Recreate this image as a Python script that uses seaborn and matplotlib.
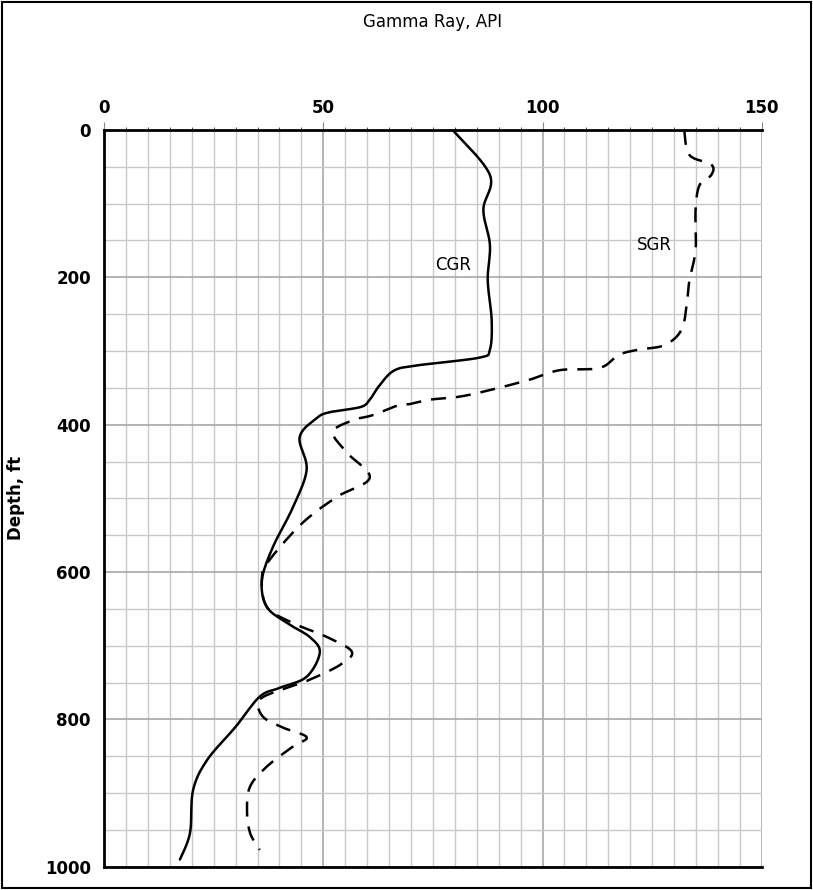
import matplotlib
matplotlib.use("Agg")
import matplotlib.pyplot as plt
import seaborn as sns
import numpy as np
import pandas as pd
from matplotlib.ticker import MultipleLocator

cgr_depth = [0, 61, 108, 156, 204, 258, 298, 309, 319, 326, 346, 366, 376, 383, 391, 417, 461, 513,
             566, 611, 647, 669, 688, 709, 742, 757, 769, 810, 855, 896, 954, 990]
cgr_api = [79.5, 88, 86.5, 88, 87.5, 88.4, 88, 85.6, 72, 66.3, 62.9, 60.6, 58.5, 51.5, 48.5, 44.6, 46.2, 43,
           38.5, 36, 37.1, 41.7, 46.9, 49.2, 46.2, 40.1, 35.5, 30.0, 23.5, 20.3, 19.6, 17.3]

sgr_depth = [0, 34, 47, 61, 75, 108, 163, 204, 231, 271, 292, 298, 305, 323, 326, 339, 353, 362, 366, 372,
             373, 387, 394, 410, 438, 472, 498, 533, 583, 607, 647, 669, 688, 708, 726, 746, 757, 773,
             796, 811, 824, 837, 864, 891, 923, 954, 977]
sgr_api = [132.3, 133.5, 138.5, 138.5, 135.8, 134.9, 134.9, 133.5, 133, 131.7, 127.8, 122, 117.5, 113, 103.9,
           97, 88, 81, 74.3, 69.7, 67.4, 61.3, 56.7, 52.2, 55.4, 60.6, 53.1, 45.3, 37.8, 36, 37.1, 43,
           50.8, 56.5, 53.8, 46.9, 41.7, 35.5, 36.2, 40.8, 46.2, 43, 37.1, 33.3, 32.6, 33.3, 35.5]

x_ticks = [0, 50, 100, 150]
y_ticks = [0, 200, 400, 600, 800, 1000]

sns.set_style("white")
plt.rcParams['font.family'] = ['DejaVu Sans']
plt.rcParams['text.color'] = 'black'
plt.rcParams['axes.labelcolor'] = 'black'
plt.rcParams['xtick.labelcolor'] = 'black'
plt.rcParams['ytick.labelcolor'] = 'black'

fig = plt.figure(figsize=(8.13, 8.90), dpi=100)
ax = fig.add_axes([0.128, 0.026, 0.809, 0.828])

def smooth(d, v):
    d = np.asarray(d, float); v = np.asarray(v, float)
    tt = np.linspace(0, len(d) - 1, len(d) * 10)
    def cr(p):
        out = []
        for s in tt:
            i = int(min(np.floor(s), len(p) - 2)); u = s - i
            p0 = p[max(i - 1, 0)]; p1 = p[i]; p2 = p[i + 1]; p3 = p[min(i + 2, len(p) - 1)]
            out.append(0.5 * ((2 * p1) + (-p0 + p2) * u + (2 * p0 - 5 * p1 + 4 * p2 - p3) * u ** 2
                              + (-p0 + 3 * p1 - 3 * p2 + p3) * u ** 3))
        return np.array(out)
    return pd.DataFrame({"depth": cr(d), "api": cr(v)})

c = smooth(cgr_depth, cgr_api)
s = smooth(sgr_depth, sgr_api)
sns.lineplot(data=c, x="api", y="depth", sort=False, estimator=None, color="black", lw=1.8, ax=ax)
sns.lineplot(data=s, x="api", y="depth", sort=False, estimator=None, color="black", lw=1.8,
             dashes=False, ax=ax, linestyle=(0, (6, 4)))

ax.set_xlim(0, 150)
ax.set_ylim(1000, 0)
ax.xaxis.set_major_locator(MultipleLocator(50))
ax.xaxis.set_minor_locator(MultipleLocator(5))
ax.yaxis.set_major_locator(MultipleLocator(200))
ax.yaxis.set_minor_locator(MultipleLocator(50))
ax.grid(which="minor", color="#c8c8c8", lw=1.0)
ax.grid(which="major", color="#a8a8a8", lw=1.2)
ax.set_axisbelow(True)
ax.xaxis.tick_top()
ax.xaxis.set_label_position("top")
ax.set_xticks(x_ticks)
ax.set_yticks(y_ticks)
ax.tick_params(axis="both", which="major", labelsize=12, length=6, color="#888888", direction="out")
for lab in ax.get_xticklabels() + ax.get_yticklabels():
    lab.set_fontweight("bold")
ax.set_xlabel("Gamma Ray, API", fontsize=12, labelpad=52)
ax.set_ylabel("Depth, ft", fontsize=12, fontweight="bold", labelpad=14)
for side in ["left", "top", "bottom"]:
    ax.spines[side].set_color("black"); ax.spines[side].set_linewidth(2)
ax.spines["right"].set_visible(False)
ax.text(79.5, 183, "CGR", fontsize=12, ha="center", va="center")
ax.text(125.5, 156, "SGR", fontsize=12, ha="center", va="center")

fig.patches.append(plt.Rectangle((0.002, 0.002), 0.996, 0.996, transform=fig.transFigure,
                                 fill=False, ec="black", lw=1.5))
fig.savefig("out.png", dpi=100)
